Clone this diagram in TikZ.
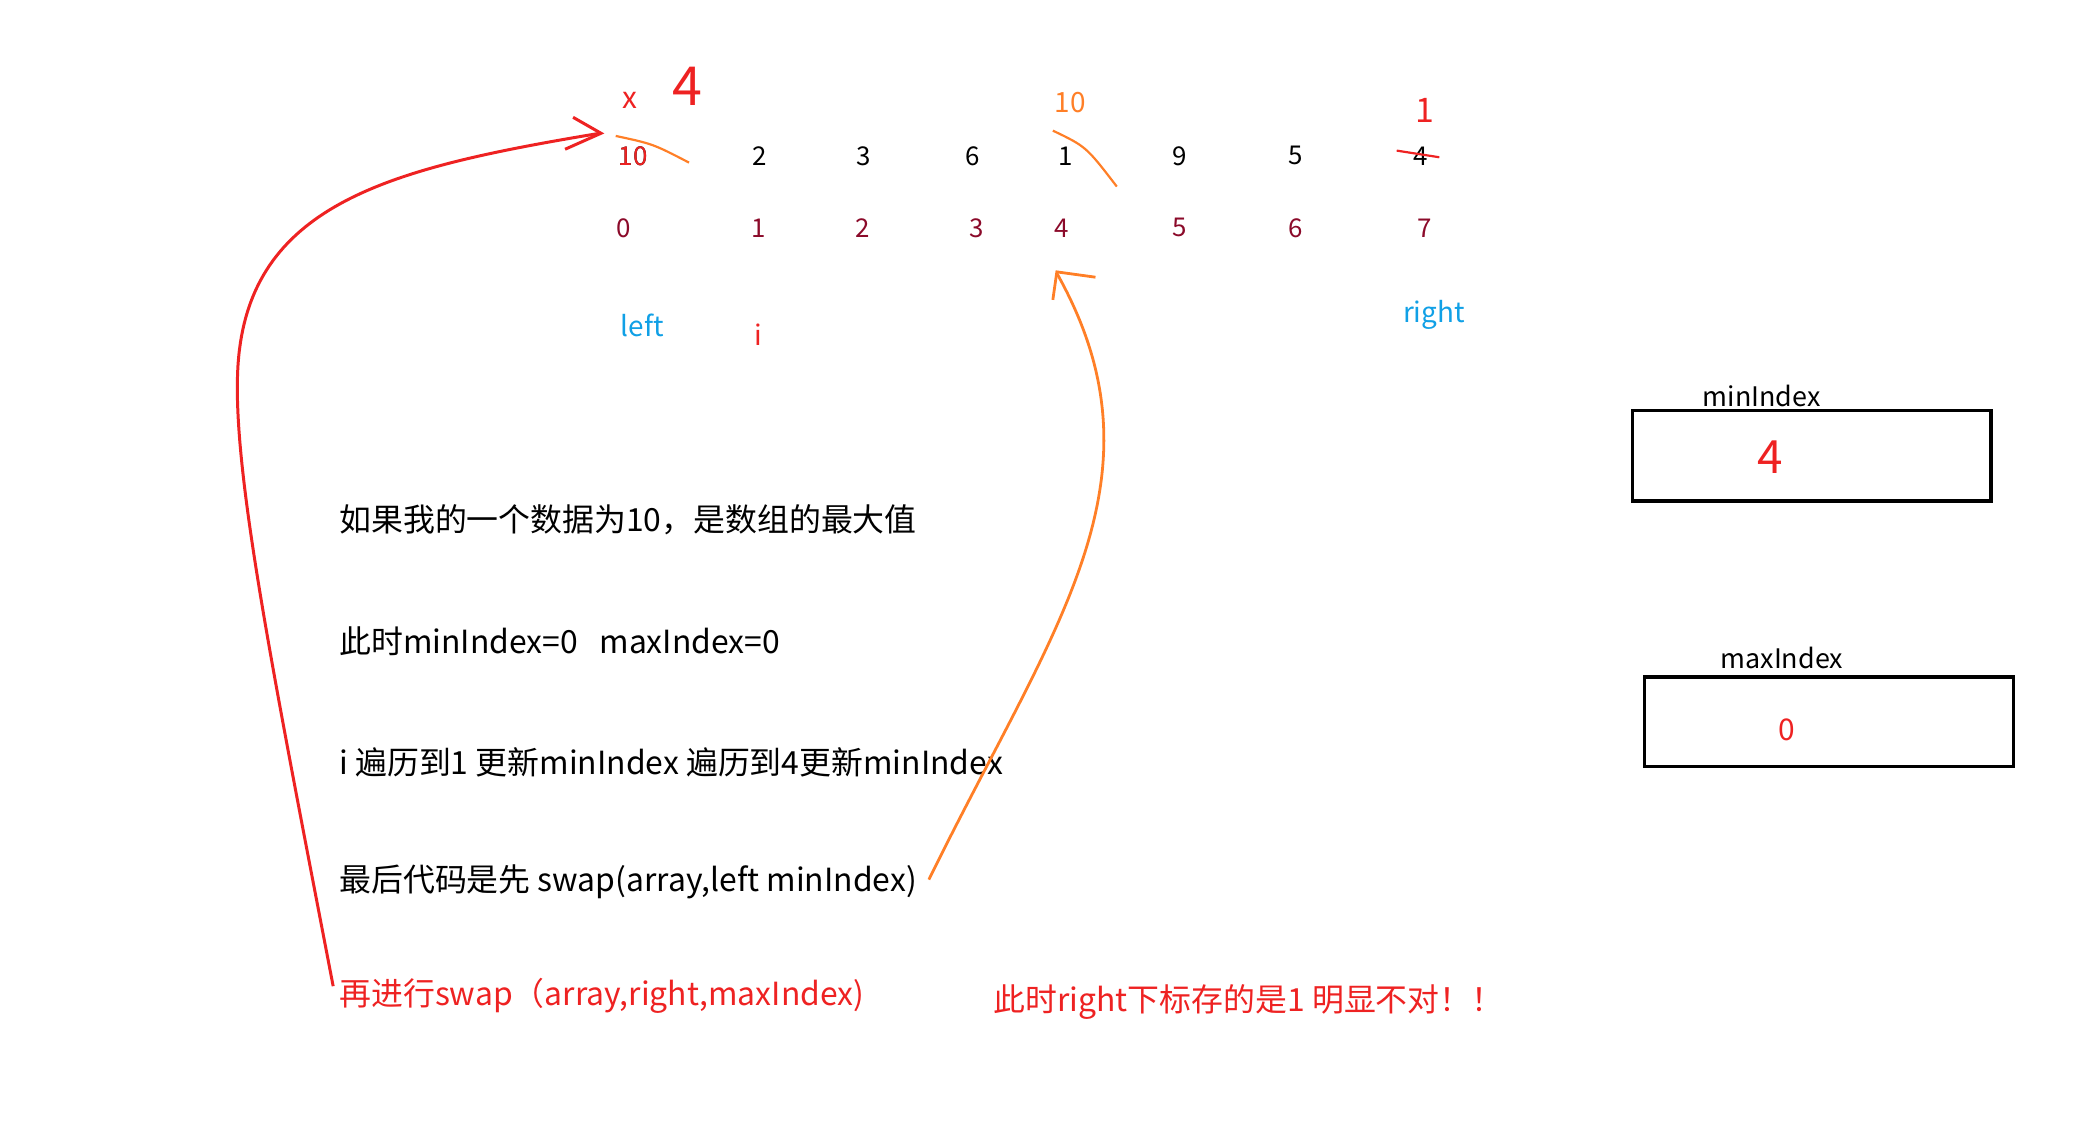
\documentclass[tikz,border=0pt]{standalone}
\usepackage{fontspec}
\setmainfont{Noto Sans CJK SC}
\begin{document}
\begin{tikzpicture}[x=1.3327bp,y=-1.3327bp,
 num/.style={font=\fontsize{26}{26}\selectfont,text=black},
 idx/.style={font=\fontsize{26}{26}\selectfont,text=idxc},
 lbl/.style={font=\fontsize{28}{28}\selectfont,text=blueC},
 txt/.style={font=\fontsize{32}{32}\selectfont,anchor=west},
 hand/.style={text=redC,font=\itshape\fontsize{40}{40}\selectfont},
 box/.style={draw,line width=3.4pt}]
\definecolor{idxc}{HTML}{8B0A2A}
\definecolor{blueC}{HTML}{10A0E6}
\definecolor{redC}{HTML}{EE2222}
\definecolor{orC}{HTML}{FF7F27}
\useasboundingbox (0,0) rectangle (1560,860);
\foreach \v/\x/\n in {10/475/a0,2/570/a1,3/648/a2,6/730/a3,1/800/a4,9/885/a5,5/972/a6,4/1066/a7}
  \node[num] (\n) at (\x,117) {\v};
\node[num,text=redC] at (475,117) {10};
\foreach \v/\x in {0/468,1/569,2/647,3/733,4/797,5/885,6/972,7/1069}
  \node[idx] (i\v) at (\x,171) {\v};
\node[lbl] (left) at (482,244) {left};
\node[lbl,text=redC] (ii) at (569,251) {i};
\node[lbl] (right) at (1076,236) {right};
% handwriting
\node[hand,font=\fontsize{30}{30}\selectfont] (hx) at (473,75) {x};
\node[hand,font=\itshape\fontsize{54}{54}\selectfont] (h4) at (516,65) {4};
\node[hand,text=orC,font=\itshape\fontsize{28}{28}\selectfont] (h10) at (803,77) {10};
\node[hand,font=\fontsize{34}{34}\selectfont] (h1) at (1069,83) {1};
\draw[orC,line width=2.2pt] (462,102) .. controls (490,108) .. (517,122);
\draw[orC,line width=2.2pt] (790,98) .. controls (815,110) .. (838,140);
\draw[redC,line width=2.2pt] (1048,113) -- (1080,118);
% boxes
\draw[box] (1225,308) rectangle (1494,376);
\node[font=\fontsize{27}{27}\selectfont] (minl) at (1322,297) {minIndex};
\node[hand,font=\itshape\fontsize{46}{46}\selectfont] (m4) at (1328,343) {4};
\draw[box] (1234,508) rectangle (1511,575);
\node[font=\fontsize{27}{27}\selectfont] (maxl) at (1337,494) {maxIndex};
\node[hand,font=\itshape\fontsize{30}{30}\selectfont] (m0) at (1341,548) {0};
% text
\node[txt] (t1) at (252,390) {如果我的一个数据为10，是数组的最大值};
\node[txt] (t2) at (252,481) {此时minIndex=0\ \ \ maxIndex=0};
\node[txt] (t3) at (252,572) {i 遍历到1 更新minIndex 遍历到4更新minIndex};
\node[txt] (t4) at (252,662) {最后代码是先 swap(array,left minIndex)};
\node[txt,text=redC] (t5) at (252,747) {再进行swap（array,right,maxIndex)};
\node[txt,text=redC] (t6) at (743,752) {此时right下标存的是1 明显不对！！};
% arrows
\coordinate (rs) at (250,740);
\coordinate (re) at (450,100);
\draw[redC,line width=3pt] (rs) .. controls (200,480) and (170,330) .. (180,260)
  .. controls (195,150) and (300,125) .. (re);
\draw[redC,line width=3pt] (430,88) -- (451,100) -- (424,112);
\coordinate (os) at (697,660);
\coordinate (oe) at (793,205);
\draw[orC,line width=2.8pt] (os) .. controls (790,470) and (880,360) .. (oe);
\draw[orC,line width=2.8pt] (790,225) -- (793,204) -- (822,208);
\end{tikzpicture}
\end{document}
